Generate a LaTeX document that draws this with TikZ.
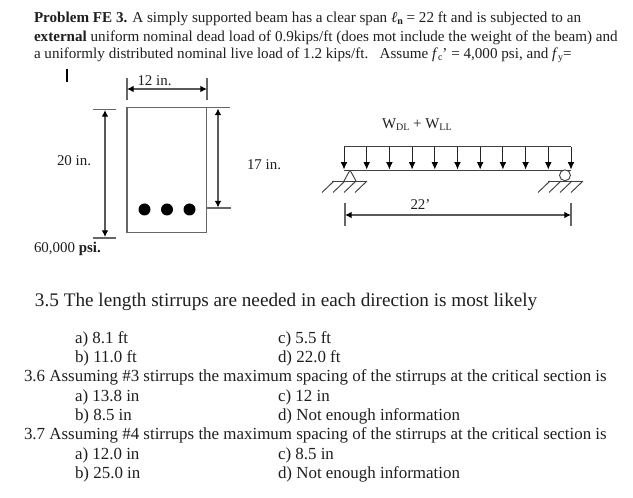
\documentclass[tikz,border=0pt]{standalone}
\usepackage{fontspec}
\setmainfont{Liberation Serif}
\usetikzlibrary{arrows.meta}
\tikzset{
  lab/.style={anchor=base west,inner sep=0pt,outer sep=0pt,text=black!88},
  hd/.style={lab,font=\fontsize{11.34pt}{13pt}\selectfont},
  fig/.style={lab,font=\fontsize{11.2pt}{13pt}\selectfont},
  big/.style={lab,font=\fontsize{14.4pt}{17pt}\selectfont},
  qt/.style={lab,font=\fontsize{12.7pt}{15pt}\selectfont},
  gline/.style={draw=black!60,line width=0.9pt},
  dimline/.style={draw=black!65,line width=0.9pt,{Latex[length=5pt,width=5pt,black]}-{Latex[length=5pt,width=5pt,black]}},
  beamline/.style={draw=black!75,line width=0.7pt},
  load/.style={draw=black!85,line width=0.7pt,-{Latex[length=5.5pt,width=5pt,black]}},
  bar/.style={circle,fill=black,inner sep=0pt,minimum size=9pt},
}
\begin{document}
\begin{tikzpicture}[x=0.75pt,y=-0.75pt]
\useasboundingbox (0,0) rectangle (633,498);
\fill[white] (0,0) rectangle (633,498);
% heading
\node[hd] (h1) at (34,23) {\textbf{Problem FE 3.} A simply supported beam has a clear span \textit{ℓ}\raisebox{-1.5pt}{\fontsize{7.5pt}{8pt}\selectfont\textbf{n}} = 22 ft and is subjected to an};
\node[hd] (h2) at (34,41.5) {\textbf{external} uniform nominal dead load of 0.9kips/ft (does mot include the weight of the beam) and};
\node[hd] (h3) at (34,59) {a uniformly distributed nominal live load of 1.2 kips/ft.\ \ \ Assume \textit{f}\raisebox{-1.5pt}{\fontsize{7.5pt}{8pt}\selectfont c}' = 4,000 psi, and \textit{f}\raisebox{-1.5pt}{\fontsize{7.5pt}{8pt}\selectfont y}=};
\coordinate (curA) at (67,69); \coordinate (curB) at (67,82);
\draw[black,line width=1pt] (curA) -- (curB);
% section
\coordinate (tl) at (127,107.7); \coordinate (tr) at (206.7,107.7);
\coordinate (bl) at (127,232.7); \coordinate (br) at (206.7,232.7);
\draw[gline] (tl) -- (tr) -- (br) -- (bl) -- cycle;
\coordinate (trx) at (229.6,107.7);
\draw[gline] (tr) -- (trx);
\coordinate (dt) at (207,208); \coordinate (dtx) at (231,208);
\draw[gline] (dt) -- (dtx);
\node[bar] (b1) at (144.5,209.5) {};
\node[bar] (b2) at (167,209.5) {};
\node[bar] (b3) at (189.5,209.5) {};
% 12 in
\coordinate (wa1) at (127,78); \coordinate (wa2) at (127,100);
\coordinate (wb1) at (207,78); \coordinate (wb2) at (207,100);
\draw[gline] (wa1) -- (wa2); \draw[gline] (wb1) -- (wb2);
\coordinate (wl) at (127,89); \coordinate (wr) at (207,89);
\draw[dimline] (wl) -- (wr);
\node[fig] (w) at (137.5,86) {12 in.};
% 20 in
\coordinate (ha1) at (93,109.5); \coordinate (ha2) at (116,109.5);
\coordinate (hb1) at (93,238); \coordinate (hb2) at (116,238);
\draw[gline] (ha1) -- (ha2); \draw[gline] (hb1) -- (hb2);
\coordinate (ht) at (105,110); \coordinate (hb) at (105,237);
\draw[dimline] (ht) -- (hb);
\node[fig] (hh) at (57,166) {20 in.};
% 17 in
\coordinate (et) at (218,108.5); \coordinate (eb) at (218,207.5);
\draw[dimline] (et) -- (eb);
\node[fig] (e) at (247,170) {17 in.};
% psi
\node[fig] (psi) at (34,252.7) {60,000 \textbf{psi.}};
% beam
\node[fig] (wlab) at (382,128.5) {W\raisebox{-1.5pt}{\fontsize{7.5pt}{8pt}\selectfont DL} + W\raisebox{-1.5pt}{\fontsize{7.5pt}{8pt}\selectfont LL}};
\coordinate (ltl) at (344,146.7); \coordinate (ltr) at (571,146.7);
\draw[beamline] (ltl) -- (ltr);
\coordinate (bml) at (344,170); \coordinate (bmr) at (571,170);
\draw[beamline] (bml) -- (bmr);
\foreach \i in {0,...,10}{
  \coordinate (lu\i) at ({344+22.7*\i},146.7);
  \coordinate (ld\i) at ({344+22.7*\i},169.5);
  \draw[load] (lu\i) -- (ld\i);
}
% supports
\coordinate (pa) at (350,170); \coordinate (pb) at (344,181); \coordinate (pc) at (356,181);
\draw[beamline] (pa) -- (pb) (pa) -- (pc);
\coordinate (gl1) at (332,181); \coordinate (gl2) at (367,181);
\draw[beamline] (gl1) -- (gl2);
\foreach \x in {334,345,356,367}{\draw[beamline] (\x,181) -- (\x-12,192.5);}
\node[circle,draw=black!75,line width=0.7pt,minimum size=8.2pt,inner sep=0pt,fill=white] (roll) at (565,175.3) {};
\coordinate (gr1) at (548,181); \coordinate (gr2) at (582,181);
\draw[beamline] (gr1) -- (gr2);
\foreach \x in {550,561,572,583}{\draw[beamline] (\x,181) -- (\x-12,192.5);}
% span
\coordinate (sa1) at (345,203); \coordinate (sa2) at (345,226);
\coordinate (sb1) at (571,203); \coordinate (sb2) at (571,226);
\draw[gline] (sa1) -- (sa2); \draw[gline] (sb1) -- (sb2);
\coordinate (sl) at (345,215); \coordinate (sr) at (571,215);
\draw[dimline] (sl) -- (sr);
\node[fig] (s) at (410.5,210) {22'};
% questions
\node[big] (q35) at (35,307) {3.5 The length stirrups are needed in each direction is most likely};
\node[qt] (a1) at (75,343.3) {a) 8.1 ft};
\node[qt] (c1) at (278,343.3) {c) 5.5 ft};
\node[qt] (b1t) at (75,362.7) {b) 11.0 ft};
\node[qt] (d1) at (278,362.7) {d) 22.0 ft};
\node[qt] (q36) at (24,382) {3.6 Assuming \#3 stirrups the maximum spacing of the stirrups at the critical section is};
\node[qt] (a2) at (75,401.3) {a) 13.8 in};
\node[qt] (c2) at (278,401.3) {c) 12 in};
\node[qt] (b2t) at (75,420.7) {b) 8.5 in};
\node[qt] (d2) at (278,420.7) {d) Not enough information};
\node[qt] (q37) at (24,439.7) {3.7 Assuming \#4 stirrups the maximum spacing of the stirrups at the critical section is};
\node[qt] (a3) at (75,459.7) {a) 12.0 in};
\node[qt] (c3) at (278,459.7) {c) 8.5 in};
\node[qt] (b3t) at (75,478.7) {b) 25.0 in};
\node[qt] (d3) at (278,478.7) {d) Not enough information};
\end{tikzpicture}
\end{document}
